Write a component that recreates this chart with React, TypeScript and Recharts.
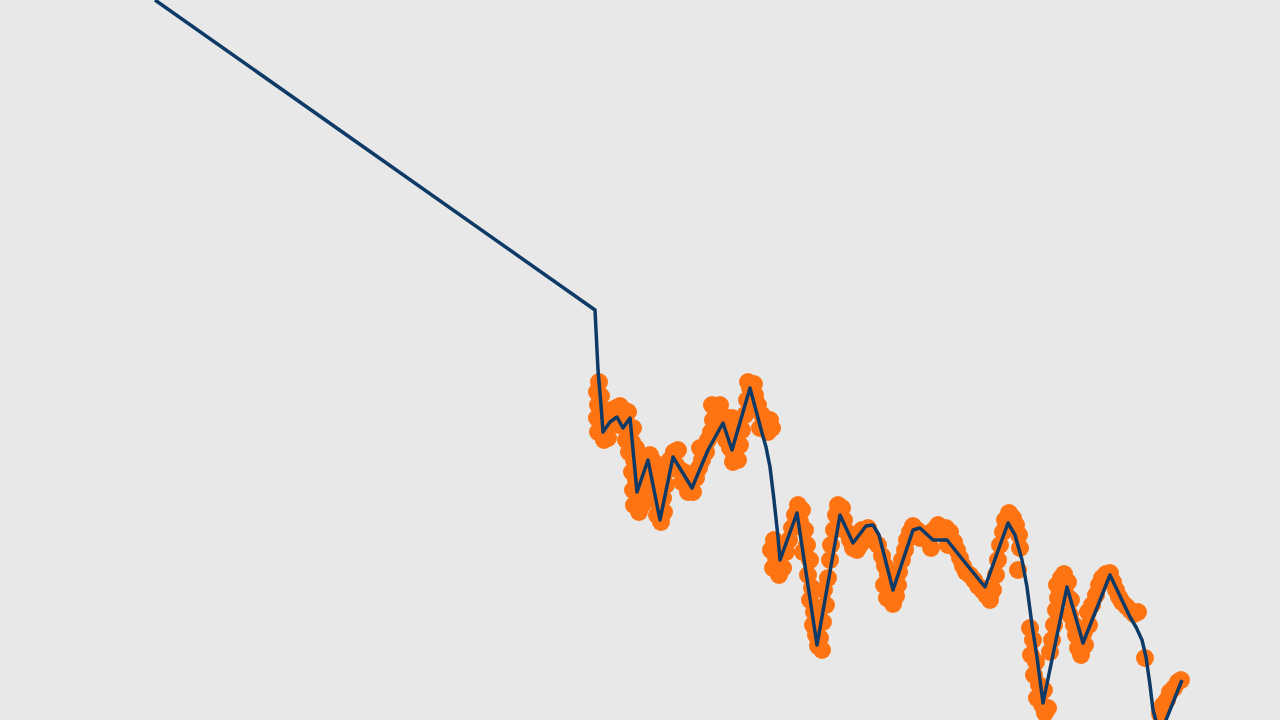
import { ComposedChart, Line, Scatter, XAxis, YAxis } from "recharts";

// trend line: position along the axis and level (top of frame = 0)
const lineT = [155, 595, 598, 601, 603, 610, 617, 623, 630, 637, 648, 660, 673, 692, 708, 723, 732, 750, 762, 766, 770, 774, 778, 780, 797, 817, 840, 853, 866, 873, 879, 893, 913, 920, 933, 947, 963, 985, 1008, 1015, 1022, 1027, 1032, 1037, 1043, 1067, 1083, 1110, 1130, 1136, 1142, 1146, 1150, 1153, 1160, 1182];
const lineV = [0, 310, 370, 405, 432, 422, 417, 428, 418, 492, 460, 520, 457, 488, 450, 423, 450, 388, 433, 447, 467, 500, 537, 560, 513, 645, 515, 543, 526, 525, 535, 590, 530, 528, 540, 540, 560, 587, 523, 535, 560, 587, 625, 657, 703, 587, 643, 575, 617, 627, 640, 657, 685, 710, 735, 680];

// observed points
const obsT = [
  599, 597, 601, 598, 603, 597, 601, 598, 604, 608, 606, 609, 612, 616, 620, 624, 614, 619, 625, 628, 629, 633, 626, 632, 636, 629, 634, 638, 632, 636, 633, 638, 634, 639, 642, 641,
  643, 646, 650, 654, 649, 653, 656, 658, 655, 660, 657, 661, 664, 663, 666, 668, 670, 674, 678, 676, 680, 684, 682, 687, 690, 693, 688,
  696, 699, 702, 700, 706, 708, 711, 713, 716, 712, 720, 722, 727, 724, 728, 732, 736, 726, 730, 734, 738, 733, 740, 742, 745, 747, 750, 748, 754, 755, 758, 762, 760, 765, 770, 768, 772,
  774, 771, 776, 773, 779, 783, 786, 789, 792, 795, 798, 802, 800, 805, 807, 803, 810, 808, 812, 810, 814, 813, 816, 818, 822, 820, 823, 826, 824, 828, 830, 831, 834, 836, 838, 842, 844, 847, 850, 853, 857, 860, 864, 862, 868,
  872, 878, 882, 885, 888, 884, 890, 887, 893, 896, 898, 899, 902, 905, 907, 910, 913, 917, 920, 924, 928, 931, 934, 938, 942, 946, 950, 948, 954, 957, 960, 963, 966, 970, 974, 978, 982, 986, 990, 993, 996, 998, 1000, 1003, 1005, 1009, 1013, 1016, 1019, 1020, 1018,
  1030, 1033, 1031, 1036, 1034, 1039, 1037, 1042, 1045, 1048, 1044, 1052, 1050, 1054, 1056, 1058, 1057, 1061, 1064, 1068, 1067, 1071, 1070, 1074, 1076, 1078, 1081, 1085, 1084, 1089, 1088, 1092, 1096, 1099, 1102, 1106, 1110, 1113, 1116, 1119, 1122, 1126, 1130, 1134, 1138, 1145, 1160, 1163, 1167, 1170, 1174, 1178, 1181,
];
const obsV = [
  382, 392, 396, 405, 410, 418, 424, 432, 440, 438, 428, 418, 410, 408, 406, 410, 420, 425, 422, 412, 430, 428, 440, 442, 448, 452, 460, 465, 472, 480, 490, 498, 505, 512, 505, 490,
  470, 460, 455, 462, 478, 485, 472, 490, 500, 505, 515, 522, 512, 498, 485, 470, 460, 452, 450, 465, 470, 472, 482, 478, 486, 492, 492,
  478, 468, 460, 448, 452, 440, 432, 420, 410, 405, 405, 415, 418, 428, 430, 418, 420, 440, 448, 455, 460, 462, 445, 430, 415, 400, 388, 382, 384, 395, 405, 415, 428, 425, 420, 432, 428,
  540, 550, 558, 568, 575, 568, 552, 540, 528, 515, 505, 510, 522, 530, 545, 552, 560, 575, 588, 600, 612, 625, 635, 646, 650, 638, 622, 605, 590, 578, 560, 545, 530, 515, 505, 508, 520, 532, 540, 548, 550, 545, 540, 530, 528,
  540, 545, 556, 566, 575, 585, 590, 598, 604, 596, 585, 572, 560, 550, 540, 532, 526, 530, 538, 534, 540, 548, 530, 525, 530, 528, 532, 545, 542, 550, 558, 566, 572, 575, 580, 586, 590, 595, 600, 590, 575, 560, 545, 532, 520, 513, 518, 525, 535, 548, 570,
  628, 640, 655, 662, 675, 685, 698, 705, 713, 708, 690, 640, 652, 625, 610, 598, 585, 578, 574, 582, 596, 600, 615, 625, 635, 648, 655, 645, 632, 625, 612, 605, 595, 585, 578, 574, 573, 582, 590, 597, 602, 606, 610, 614, 612, 658, 714, 705, 700, 692, 688, 682, 680,
];

const trend = lineT.map((t, i) => ({ t, v: lineV[i] }));
const observed = obsT.map((t, i) => ({ t, v: obsV[i] }));

const Dot = (props: any) => (
  <circle cx={props.cx} cy={props.cy} r={9} fill="#ff7412" />
);

export default function App() {
  return (
    <div style={{ position: "fixed", left: 0, top: 0, width: 1280, height: 720, background: "#e8e8e8" }}>
      <ComposedChart width={1280} height={720} margin={{ top: 0, right: 0, bottom: 0, left: 0 }}>
        <XAxis type="number" dataKey="t" domain={[0, 1280]} allowDataOverflow hide />
        <YAxis type="number" dataKey="v" domain={[0, 720]} reversed allowDataOverflow hide />
        <Scatter data={observed} shape={Dot} isAnimationActive={false} />
        <Line
          data={trend}
          dataKey="v"
          type="linear"
          stroke="#0d3a66"
          strokeWidth={3.5}
          strokeLinejoin="round"
          dot={false}
          activeDot={false}
          zIndex={700}
          isAnimationActive={false}
        />
      </ComposedChart>
    </div>
  );
}
